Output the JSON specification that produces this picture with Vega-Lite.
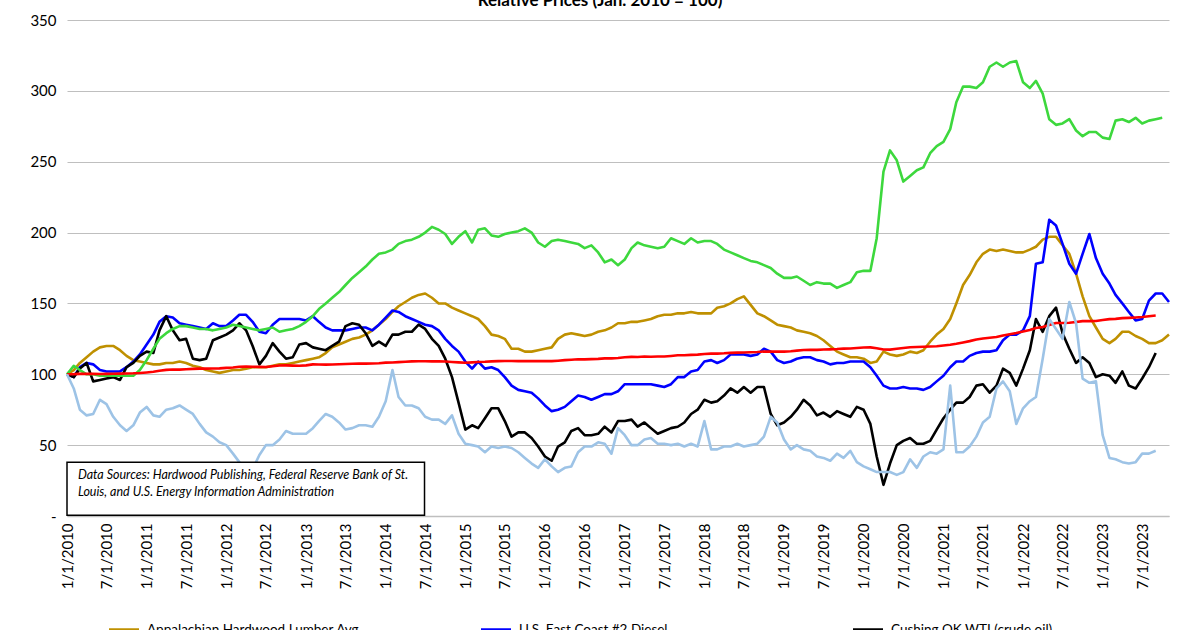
{
  "$schema": "https://vega.github.io/schema/vega-lite/v6.json",
  "width": 1102,
  "height": 496,
  "autosize": {"type": "none"},
  "padding": {"left": 67, "top": 20, "right": 31, "bottom": 114},
  "background": "white",
  "title": {"text": "Relative Prices (Jan. 2010 = 100)", "fontSize": 17, "fontWeight": "bold", "font": "Lato", "color": "#000000", "anchor": "middle", "offset": 3, "dx": -18},
  "config": {
    "font": "Lato",
    "view": {"stroke": null},
    "axis": {"labelFont": "Lato", "labelColor": "#000000", "labelFontSize": 15, "titleFontSize": 15}
  },
  "datasets": {
    "series": [
      {"d":"2010-01-01","lum":100,"dsl":100,"wti":100,"pal":100,"cpi":100,"gas":100},
      {"d":"2010-02-01","lum":103,"dsl":98,"wti":98,"pal":106,"cpi":100.1,"gas":90},
      {"d":"2010-03-01","lum":108,"dsl":105,"wti":104,"pal":103,"cpi":100.3,"gas":75},
      {"d":"2010-04-01","lum":112,"dsl":108,"wti":108,"pal":100,"cpi":100.4,"gas":71},
      {"d":"2010-05-01","lum":116,"dsl":107,"wti":95,"pal":100,"cpi":100.3,"gas":72},
      {"d":"2010-06-01","lum":119,"dsl":103,"wti":96,"pal":99,"cpi":100.2,"gas":82},
      {"d":"2010-07-01","lum":120,"dsl":102,"wti":97,"pal":99,"cpi":100.3,"gas":79},
      {"d":"2010-08-01","lum":120,"dsl":102,"wti":98,"pal":99,"cpi":100.4,"gas":70},
      {"d":"2010-09-01","lum":117,"dsl":102,"wti":96,"pal":99,"cpi":100.5,"gas":64},
      {"d":"2010-10-01","lum":113,"dsl":105,"wti":105,"pal":99,"cpi":100.6,"gas":60},
      {"d":"2010-11-01","lum":110,"dsl":109,"wti":108,"pal":99,"cpi":100.7,"gas":64},
      {"d":"2010-12-01","lum":109,"dsl":114,"wti":113,"pal":103,"cpi":100.9,"gas":73},
      {"d":"2011-01-01","lum":108,"dsl":121,"wti":116,"pal":110,"cpi":101.3,"gas":77},
      {"d":"2011-02-01","lum":107,"dsl":128,"wti":115,"pal":118,"cpi":101.8,"gas":71},
      {"d":"2011-03-01","lum":107,"dsl":137,"wti":131,"pal":125,"cpi":102.5,"gas":70},
      {"d":"2011-04-01","lum":108,"dsl":141,"wti":141,"pal":129,"cpi":103.1,"gas":75},
      {"d":"2011-05-01","lum":108,"dsl":140,"wti":131,"pal":132,"cpi":103.4,"gas":76},
      {"d":"2011-06-01","lum":109,"dsl":136,"wti":124,"pal":134,"cpi":103.3,"gas":78},
      {"d":"2011-07-01","lum":108,"dsl":135,"wti":125,"pal":134,"cpi":103.5,"gas":75},
      {"d":"2011-08-01","lum":106,"dsl":134,"wti":111,"pal":133,"cpi":103.8,"gas":72},
      {"d":"2011-09-01","lum":105,"dsl":133,"wti":110,"pal":132,"cpi":104.0,"gas":65},
      {"d":"2011-10-01","lum":103,"dsl":132,"wti":111,"pal":132,"cpi":104.0,"gas":59},
      {"d":"2011-11-01","lum":102,"dsl":136,"wti":124,"pal":131,"cpi":104.1,"gas":56},
      {"d":"2011-12-01","lum":101,"dsl":134,"wti":126,"pal":132,"cpi":104.2,"gas":52},
      {"d":"2012-01-01","lum":102,"dsl":134,"wti":128,"pal":133,"cpi":104.5,"gas":50},
      {"d":"2012-02-01","lum":103,"dsl":138,"wti":131,"pal":135,"cpi":104.8,"gas":44},
      {"d":"2012-03-01","lum":103,"dsl":142,"wti":136,"pal":134,"cpi":105.3,"gas":38},
      {"d":"2012-04-01","lum":104,"dsl":142,"wti":131,"pal":133,"cpi":105.5,"gas":34},
      {"d":"2012-05-01","lum":105,"dsl":137,"wti":120,"pal":132,"cpi":105.3,"gas":33},
      {"d":"2012-06-01","lum":105,"dsl":130,"wti":107,"pal":131,"cpi":105.2,"gas":43},
      {"d":"2012-07-01","lum":105,"dsl":129,"wti":113,"pal":132,"cpi":105.1,"gas":50},
      {"d":"2012-08-01","lum":106,"dsl":135,"wti":122,"pal":133,"cpi":105.7,"gas":50},
      {"d":"2012-09-01","lum":107,"dsl":139,"wti":116,"pal":130,"cpi":106.2,"gas":54},
      {"d":"2012-10-01","lum":107,"dsl":139,"wti":111,"pal":131,"cpi":106.3,"gas":60},
      {"d":"2012-11-01","lum":108,"dsl":139,"wti":112,"pal":132,"cpi":106.1,"gas":58},
      {"d":"2012-12-01","lum":109,"dsl":139,"wti":121,"pal":134,"cpi":106.0,"gas":58},
      {"d":"2013-01-01","lum":110,"dsl":138,"wti":122,"pal":137,"cpi":106.3,"gas":58},
      {"d":"2013-02-01","lum":111,"dsl":141,"wti":119,"pal":141,"cpi":107.0,"gas":62},
      {"d":"2013-03-01","lum":112,"dsl":137,"wti":118,"pal":146,"cpi":106.9,"gas":67},
      {"d":"2013-04-01","lum":115,"dsl":133,"wti":117,"pal":150,"cpi":106.8,"gas":72},
      {"d":"2013-05-01","lum":119,"dsl":131,"wti":120,"pal":154,"cpi":106.9,"gas":70},
      {"d":"2013-06-01","lum":121,"dsl":131,"wti":123,"pal":158,"cpi":107.1,"gas":66},
      {"d":"2013-07-01","lum":123,"dsl":131,"wti":134,"pal":163,"cpi":107.3,"gas":61},
      {"d":"2013-08-01","lum":125,"dsl":132,"wti":136,"pal":168,"cpi":107.4,"gas":62},
      {"d":"2013-09-01","lum":126,"dsl":133,"wti":135,"pal":172,"cpi":107.6,"gas":64},
      {"d":"2013-10-01","lum":128,"dsl":133,"wti":129,"pal":176,"cpi":107.5,"gas":64},
      {"d":"2013-11-01","lum":131,"dsl":131,"wti":120,"pal":181,"cpi":107.6,"gas":63},
      {"d":"2013-12-01","lum":135,"dsl":135,"wti":123,"pal":185,"cpi":107.8,"gas":70},
      {"d":"2014-01-01","lum":139,"dsl":140,"wti":120,"pal":186,"cpi":108.2,"gas":81},
      {"d":"2014-02-01","lum":144,"dsl":145,"wti":128,"pal":188,"cpi":108.3,"gas":103},
      {"d":"2014-03-01","lum":148,"dsl":144,"wti":128,"pal":192,"cpi":108.6,"gas":84},
      {"d":"2014-04-01","lum":151,"dsl":141,"wti":130,"pal":194,"cpi":108.9,"gas":78},
      {"d":"2014-05-01","lum":154,"dsl":139,"wti":130,"pal":195,"cpi":109.1,"gas":78},
      {"d":"2014-06-01","lum":156,"dsl":137,"wti":135,"pal":197,"cpi":109.2,"gas":76},
      {"d":"2014-07-01","lum":157,"dsl":135,"wti":132,"pal":200,"cpi":109.2,"gas":70},
      {"d":"2014-08-01","lum":154,"dsl":134,"wti":125,"pal":204,"cpi":109.1,"gas":68},
      {"d":"2014-09-01","lum":150,"dsl":131,"wti":120,"pal":202,"cpi":109.2,"gas":68},
      {"d":"2014-10-01","lum":150,"dsl":125,"wti":111,"pal":199,"cpi":109.0,"gas":65},
      {"d":"2014-11-01","lum":147,"dsl":120,"wti":98,"pal":192,"cpi":108.7,"gas":71},
      {"d":"2014-12-01","lum":145,"dsl":116,"wti":80,"pal":197,"cpi":108.4,"gas":58},
      {"d":"2015-01-01","lum":143,"dsl":109,"wti":61,"pal":201,"cpi":108.1,"gas":51},
      {"d":"2015-02-01","lum":141,"dsl":104,"wti":64,"pal":193,"cpi":108.4,"gas":50},
      {"d":"2015-03-01","lum":139,"dsl":109,"wti":62,"pal":202,"cpi":108.7,"gas":49},
      {"d":"2015-04-01","lum":134,"dsl":104,"wti":69,"pal":203,"cpi":108.8,"gas":45},
      {"d":"2015-05-01","lum":128,"dsl":105,"wti":76,"pal":198,"cpi":109.1,"gas":49},
      {"d":"2015-06-01","lum":127,"dsl":103,"wti":76,"pal":197,"cpi":109.3,"gas":48},
      {"d":"2015-07-01","lum":125,"dsl":98,"wti":67,"pal":199,"cpi":109.4,"gas":49},
      {"d":"2015-08-01","lum":118,"dsl":92,"wti":56,"pal":200,"cpi":109.4,"gas":48},
      {"d":"2015-09-01","lum":118,"dsl":89,"wti":59,"pal":201,"cpi":109.3,"gas":45},
      {"d":"2015-10-01","lum":116,"dsl":88,"wti":59,"pal":203,"cpi":109.3,"gas":41},
      {"d":"2015-11-01","lum":116,"dsl":87,"wti":55,"pal":200,"cpi":109.3,"gas":37},
      {"d":"2015-12-01","lum":117,"dsl":83,"wti":49,"pal":193,"cpi":109.3,"gas":34},
      {"d":"2016-01-01","lum":118,"dsl":78,"wti":42,"pal":190,"cpi":109.3,"gas":40},
      {"d":"2016-02-01","lum":119,"dsl":74,"wti":39,"pal":194,"cpi":109.3,"gas":35},
      {"d":"2016-03-01","lum":125,"dsl":75,"wti":49,"pal":195,"cpi":109.6,"gas":31},
      {"d":"2016-04-01","lum":128,"dsl":77,"wti":52,"pal":194,"cpi":110.0,"gas":34},
      {"d":"2016-05-01","lum":129,"dsl":81,"wti":60,"pal":193,"cpi":110.3,"gas":35},
      {"d":"2016-06-01","lum":128,"dsl":85,"wti":62,"pal":192,"cpi":110.6,"gas":45},
      {"d":"2016-07-01","lum":127,"dsl":84,"wti":57,"pal":189,"cpi":110.5,"gas":49},
      {"d":"2016-08-01","lum":128,"dsl":82,"wti":57,"pal":191,"cpi":110.7,"gas":49},
      {"d":"2016-09-01","lum":130,"dsl":84,"wti":58,"pal":186,"cpi":110.9,"gas":52},
      {"d":"2016-10-01","lum":131,"dsl":86,"wti":63,"pal":179,"cpi":111.2,"gas":51},
      {"d":"2016-11-01","lum":133,"dsl":86,"wti":59,"pal":181,"cpi":111.2,"gas":44},
      {"d":"2016-12-01","lum":136,"dsl":88,"wti":67,"pal":177,"cpi":111.5,"gas":62},
      {"d":"2017-01-01","lum":136,"dsl":93,"wti":67,"pal":181,"cpi":112.0,"gas":57},
      {"d":"2017-02-01","lum":137,"dsl":93,"wti":68,"pal":189,"cpi":112.3,"gas":50},
      {"d":"2017-03-01","lum":137,"dsl":93,"wti":63,"pal":193,"cpi":112.2,"gas":50},
      {"d":"2017-04-01","lum":138,"dsl":93,"wti":66,"pal":191,"cpi":112.5,"gas":54},
      {"d":"2017-05-01","lum":139,"dsl":93,"wti":62,"pal":190,"cpi":112.4,"gas":55},
      {"d":"2017-06-01","lum":141,"dsl":92,"wti":58,"pal":189,"cpi":112.5,"gas":51},
      {"d":"2017-07-01","lum":142,"dsl":91,"wti":60,"pal":190,"cpi":112.5,"gas":51},
      {"d":"2017-08-01","lum":142,"dsl":93,"wti":62,"pal":196,"cpi":112.9,"gas":50},
      {"d":"2017-09-01","lum":143,"dsl":98,"wti":63,"pal":194,"cpi":113.4,"gas":51},
      {"d":"2017-10-01","lum":143,"dsl":98,"wti":66,"pal":192,"cpi":113.4,"gas":49},
      {"d":"2017-11-01","lum":144,"dsl":102,"wti":72,"pal":196,"cpi":113.7,"gas":51},
      {"d":"2017-12-01","lum":143,"dsl":103,"wti":75,"pal":193,"cpi":113.9,"gas":49},
      {"d":"2018-01-01","lum":143,"dsl":109,"wti":82,"pal":194,"cpi":114.3,"gas":67},
      {"d":"2018-02-01","lum":143,"dsl":110,"wti":80,"pal":194,"cpi":114.6,"gas":47},
      {"d":"2018-03-01","lum":147,"dsl":108,"wti":81,"pal":192,"cpi":114.6,"gas":47},
      {"d":"2018-04-01","lum":148,"dsl":110,"wti":85,"pal":188,"cpi":114.8,"gas":49},
      {"d":"2018-05-01","lum":150,"dsl":114,"wti":90,"pal":186,"cpi":115.1,"gas":49},
      {"d":"2018-06-01","lum":153,"dsl":114,"wti":87,"pal":184,"cpi":115.3,"gas":51},
      {"d":"2018-07-01","lum":155,"dsl":114,"wti":91,"pal":182,"cpi":115.4,"gas":49},
      {"d":"2018-08-01","lum":149,"dsl":113,"wti":87,"pal":180,"cpi":115.5,"gas":50},
      {"d":"2018-09-01","lum":143,"dsl":114,"wti":91,"pal":179,"cpi":115.7,"gas":51},
      {"d":"2018-10-01","lum":141,"dsl":118,"wti":91,"pal":177,"cpi":116.1,"gas":56},
      {"d":"2018-11-01","lum":138,"dsl":116,"wti":72,"pal":175,"cpi":116.0,"gas":70},
      {"d":"2018-12-01","lum":135,"dsl":110,"wti":64,"pal":171,"cpi":116.0,"gas":66},
      {"d":"2019-01-01","lum":134,"dsl":108,"wti":66,"pal":168,"cpi":116.0,"gas":54},
      {"d":"2019-02-01","lum":133,"dsl":109,"wti":70,"pal":168,"cpi":116.3,"gas":47},
      {"d":"2019-03-01","lum":131,"dsl":111,"wti":75,"pal":169,"cpi":116.7,"gas":50},
      {"d":"2019-04-01","lum":130,"dsl":112,"wti":82,"pal":166,"cpi":117.1,"gas":47},
      {"d":"2019-05-01","lum":129,"dsl":112,"wti":78,"pal":163,"cpi":117.2,"gas":46},
      {"d":"2019-06-01","lum":127,"dsl":110,"wti":71,"pal":165,"cpi":117.2,"gas":42},
      {"d":"2019-07-01","lum":124,"dsl":109,"wti":73,"pal":164,"cpi":117.5,"gas":41},
      {"d":"2019-08-01","lum":120,"dsl":107,"wti":70,"pal":164,"cpi":117.6,"gas":39},
      {"d":"2019-09-01","lum":116,"dsl":108,"wti":74,"pal":161,"cpi":117.8,"gas":44},
      {"d":"2019-10-01","lum":114,"dsl":108,"wti":72,"pal":163,"cpi":118.1,"gas":41},
      {"d":"2019-11-01","lum":112,"dsl":109,"wti":70,"pal":165,"cpi":118.2,"gas":46},
      {"d":"2019-12-01","lum":112,"dsl":109,"wti":77,"pal":172,"cpi":118.5,"gas":38},
      {"d":"2020-01-01","lum":111,"dsl":109,"wti":75,"pal":173,"cpi":118.9,"gas":35},
      {"d":"2020-02-01","lum":108,"dsl":105,"wti":65,"pal":173,"cpi":119.0,"gas":33},
      {"d":"2020-03-01","lum":109,"dsl":99,"wti":42,"pal":196,"cpi":118.4,"gas":31},
      {"d":"2020-04-01","lum":116,"dsl":92,"wti":22,"pal":243,"cpi":117.5,"gas":31},
      {"d":"2020-05-01","lum":114,"dsl":90,"wti":37,"pal":258,"cpi":117.4,"gas":31},
      {"d":"2020-06-01","lum":113,"dsl":90,"wti":50,"pal":251,"cpi":118.0,"gas":29},
      {"d":"2020-07-01","lum":114,"dsl":91,"wti":53,"pal":236,"cpi":118.6,"gas":31},
      {"d":"2020-08-01","lum":116,"dsl":90,"wti":55,"pal":240,"cpi":119.1,"gas":40},
      {"d":"2020-09-01","lum":115,"dsl":90,"wti":51,"pal":244,"cpi":119.3,"gas":34},
      {"d":"2020-10-01","lum":117,"dsl":89,"wti":51,"pal":246,"cpi":119.4,"gas":42},
      {"d":"2020-11-01","lum":123,"dsl":91,"wti":53,"pal":256,"cpi":119.6,"gas":45},
      {"d":"2020-12-01","lum":128,"dsl":95,"wti":61,"pal":261,"cpi":119.8,"gas":44},
      {"d":"2021-01-01","lum":132,"dsl":99,"wti":69,"pal":264,"cpi":120.3,"gas":47},
      {"d":"2021-02-01","lum":139,"dsl":105,"wti":75,"pal":273,"cpi":120.8,"gas":92},
      {"d":"2021-03-01","lum":150,"dsl":109,"wti":80,"pal":292,"cpi":121.5,"gas":45},
      {"d":"2021-04-01","lum":163,"dsl":109,"wti":80,"pal":303,"cpi":122.5,"gas":45},
      {"d":"2021-05-01","lum":170,"dsl":113,"wti":84,"pal":303,"cpi":123.4,"gas":49},
      {"d":"2021-06-01","lum":179,"dsl":115,"wti":92,"pal":302,"cpi":124.6,"gas":56},
      {"d":"2021-07-01","lum":185,"dsl":116,"wti":93,"pal":306,"cpi":125.3,"gas":66},
      {"d":"2021-08-01","lum":188,"dsl":116,"wti":87,"pal":317,"cpi":125.8,"gas":70},
      {"d":"2021-09-01","lum":187,"dsl":117,"wti":92,"pal":320,"cpi":126.3,"gas":90},
      {"d":"2021-10-01","lum":188,"dsl":124,"wti":104,"pal":317,"cpi":127.4,"gas":95},
      {"d":"2021-11-01","lum":187,"dsl":128,"wti":101,"pal":320,"cpi":128.3,"gas":88},
      {"d":"2021-12-01","lum":186,"dsl":128,"wti":92,"pal":321,"cpi":129.1,"gas":65},
      {"d":"2022-01-01","lum":186,"dsl":131,"wti":104,"pal":306,"cpi":130.2,"gas":76},
      {"d":"2022-02-01","lum":188,"dsl":141,"wti":117,"pal":302,"cpi":131.2,"gas":81},
      {"d":"2022-03-01","lum":190,"dsl":178,"wti":139,"pal":307,"cpi":132.7,"gas":84},
      {"d":"2022-04-01","lum":195,"dsl":179,"wti":130,"pal":298,"cpi":133.4,"gas":111},
      {"d":"2022-05-01","lum":197,"dsl":209,"wti":141,"pal":280,"cpi":134.8,"gas":139},
      {"d":"2022-06-01","lum":197,"dsl":205,"wti":147,"pal":276,"cpi":136.2,"gas":132},
      {"d":"2022-07-01","lum":191,"dsl":192,"wti":129,"pal":277,"cpi":136.2,"gas":125},
      {"d":"2022-08-01","lum":185,"dsl":178,"wti":118,"pal":280,"cpi":136.4,"gas":151},
      {"d":"2022-09-01","lum":171,"dsl":171,"wti":108,"pal":272,"cpi":136.9,"gas":136},
      {"d":"2022-10-01","lum":155,"dsl":185,"wti":112,"pal":268,"cpi":137.5,"gas":97},
      {"d":"2022-11-01","lum":141,"dsl":199,"wti":108,"pal":271,"cpi":137.5,"gas":94},
      {"d":"2022-12-01","lum":133,"dsl":182,"wti":98,"pal":271,"cpi":137.6,"gas":95},
      {"d":"2023-01-01","lum":125,"dsl":171,"wti":100,"pal":267,"cpi":138.3,"gas":57},
      {"d":"2023-02-01","lum":122,"dsl":164,"wti":99,"pal":266,"cpi":138.9,"gas":41},
      {"d":"2023-03-01","lum":125,"dsl":156,"wti":94,"pal":279,"cpi":139.1,"gas":40},
      {"d":"2023-04-01","lum":130,"dsl":150,"wti":102,"pal":280,"cpi":139.6,"gas":38},
      {"d":"2023-05-01","lum":130,"dsl":144,"wti":92,"pal":278,"cpi":139.8,"gas":37},
      {"d":"2023-06-01","lum":127,"dsl":138,"wti":90,"pal":281,"cpi":140.1,"gas":38},
      {"d":"2023-07-01","lum":125,"dsl":139,"wti":97,"pal":277,"cpi":140.4,"gas":44},
      {"d":"2023-08-01","lum":122,"dsl":152,"wti":105,"pal":279,"cpi":141.0,"gas":44},
      {"d":"2023-09-01","lum":122,"dsl":157,"wti":115,"pal":280,"cpi":141.5,"gas":46},
      {"d":"2023-10-01","lum":124,"dsl":157,"pal":281},
      {"d":"2023-11-01","lum":128,"dsl":151}
    ],
    "box": [
      {"x1":"2010-01-01","x2":"2014-06-28","y1":0.5,"y2":38}
    ],
    "note": [
      {"d":"2010-02-20","v":29,"t":"Data Sources: Hardwood Publishing, Federal Reserve Bank of St."},
      {"d":"2010-02-20","v":17,"t":"Louis, and U.S. Energy Information Administration"}
    ]
  },
  "layer": [
    {
      "data": {"name": "series"},
      "transform": [
        {"fold": ["lum","dsl","wti","pal","cpi","gas"], "as": ["s","v"]},
        {"filter": "isValid(datum.v)"}
      ],
      "mark": {"type": "line", "strokeWidth": 2.6, "strokeJoin": "round"},
      "encoding": {
        "x": {
          "field": "d", "type": "temporal",
          "scale": {"type": "utc", "domain": [{"year":2010,"month":1,"date":1,"utc":true},{"year":2023,"month":11,"date":1,"utc":true}]},
          "axis": {"title": null, "format": "%-m/%-d/%Y", "tickCount": {"interval": "month", "step": 6}, "labelAngle": -90, "labelAlign": "right", "labelBaseline": "middle", "grid": false, "ticks": false, "tickSize": 0, "labelPadding": 7, "domainColor": "#bfbfbf", "domainWidth": 1.5, "labelFlush": false, "labelOverlap": false}
        },
        "y": {
          "field": "v", "type": "quantitative",
          "scale": {"domain": [0, 350], "nice": false, "zero": true},
          "axis": {"title": null, "values": [0,50,100,150,200,250,300,350], "labelExpr": "datum.value === 0 ? '-\u00a0\u00a0\u00a0\u00a0' : datum.label", "domain": false, "ticks": false, "tickSize": 0, "labelPadding": 11, "gridColor": "#bfbfbf", "gridWidth": 1.2}
        },
        "color": {
          "field": "s", "type": "nominal",
          "scale": {"domain": ["lum","dsl","wti","pal","cpi","gas"], "range": ["#BF9000","#0000FF","#000000","#3DD83D","#FF0000","#9DC3E6"]},
          "legend": {
            "orient": "none", "legendX": 40, "legendY": 593, "columns": 3, "direction": "horizontal",
            "title": null, "padding": 0, "gridAlign": "all", "columnPadding": 114, "rowPadding": 4,
            "symbolType": "stroke", "symbolSize": 900, "symbolStrokeWidth": 3.5,
            "labelFont": "Lato", "labelFontSize": 13.5, "labelColor": "#000000", "labelOffset": 6, "labelLimit": 0,
            "labelExpr": "datum.value == 'lum' ? 'Appalachian Hardwood Lumber Avg' : datum.value == 'dsl' ? 'U.S. East Coast #2 Diesel' : datum.value == 'wti' ? 'Cushing OK WTI (crude oil)' : datum.value == 'pal' ? 'Hardwood Pallet Lumber Avg' : datum.value == 'cpi' ? 'Consumer Price Index' : 'Henry Hub Natural Gas'"
          }
        }
      }
    },
    {
      "data": {"name": "box"},
      "mark": {"type": "rect", "fill": "#ffffff", "stroke": "#000000", "strokeWidth": 1.5},
      "encoding": {
        "x": {"field": "x1", "type": "temporal"},
        "x2": {"field": "x2"},
        "y": {"field": "y1", "type": "quantitative"},
        "y2": {"field": "y2"}
      }
    },
    {
      "data": {"name": "note"},
      "mark": {"type": "text", "align": "left", "baseline": "middle", "font": "Lato", "fontStyle": "italic", "fontSize": 12.5, "color": "#000000"},
      "encoding": {
        "x": {"field": "d", "type": "temporal"},
        "y": {"field": "v", "type": "quantitative"},
        "text": {"field": "t"}
      }
    }
  ]
}
